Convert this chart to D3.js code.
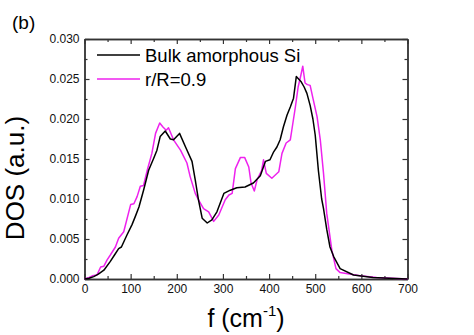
<!DOCTYPE html>
<html>
<head>
<meta charset="utf-8">
<script src="https://cdn.jsdelivr.net/npm/d3@7"></script>
<style>
  body { margin: 0; background: #fff; }
  svg { display: block; font-family: "Liberation Sans", Arial, sans-serif; }
</style>
</head>
<body>
<svg id="chart" width="474" height="335"></svg>
<script>
// bulk amorphous Si
var bulkF = [0, 10, 20, 30, 42, 56, 65, 74, 80, 92, 103, 110, 118, 128, 139, 150, 157, 164, 175, 186, 193, 206, 219, 233, 240, 247, 255, 266, 276, 287, 302, 316, 330, 348, 366, 381, 392, 402, 410, 417, 424, 431, 439, 446, 453, 459, 469, 476, 482, 489, 495, 500, 507, 514, 518, 525, 532, 540, 554, 583, 625, 660, 700];
var bulkDos = [0, 0.0001, 0.0003, 0.0006, 0.0011, 0.0022, 0.003, 0.0038, 0.004, 0.0055, 0.0068, 0.0078, 0.009, 0.0111, 0.0136, 0.0151, 0.0161, 0.0178, 0.0185, 0.0175, 0.0174, 0.0182, 0.0165, 0.0147, 0.0124, 0.0099, 0.0076, 0.007, 0.0074, 0.0084, 0.0107, 0.0111, 0.0114, 0.0115, 0.012, 0.0129, 0.0147, 0.0149, 0.0159, 0.0165, 0.0174, 0.019, 0.0205, 0.0215, 0.0226, 0.0253, 0.0247, 0.024, 0.0232, 0.0217, 0.02, 0.018, 0.0135, 0.01, 0.0088, 0.0062, 0.004, 0.0028, 0.0013, 0.0005, 0.0002, 0.0001, 0];
// r/R = 0.9
var ringF = [0, 10, 17, 27, 35, 42, 49, 56, 67, 74, 85, 100, 107, 114, 121, 128, 136, 146, 154, 163, 170, 177, 182, 193, 208, 222, 229, 240, 249, 258, 269, 280, 291, 305, 313, 320, 327, 338, 347, 356, 361, 368, 374, 384, 388, 394, 406, 421, 428, 437, 446, 449, 457, 463, 469, 473, 478, 483, 489, 495, 504, 511, 518, 525, 536, 545, 554, 597, 633, 700];
var ringDos = [0, 0.0002, 0.0004, 0.0005, 0.0015, 0.0016, 0.0024, 0.003, 0.004, 0.0051, 0.0059, 0.0093, 0.0094, 0.0103, 0.0116, 0.0117, 0.0136, 0.0157, 0.0182, 0.0195, 0.019, 0.0186, 0.0189, 0.0174, 0.0161, 0.0145, 0.0128, 0.0107, 0.0097, 0.0088, 0.0084, 0.0072, 0.008, 0.0099, 0.0105, 0.0107, 0.0138, 0.0152, 0.0152, 0.014, 0.012, 0.011, 0.0124, 0.0136, 0.0149, 0.0132, 0.0126, 0.0134, 0.0157, 0.017, 0.0174, 0.0185, 0.0215, 0.024, 0.0255, 0.0266, 0.0245, 0.0243, 0.0242, 0.0226, 0.0203, 0.0174, 0.0132, 0.0082, 0.0036, 0.0013, 0.0008, 0.0004, 0.0002, 0];

var xTicks = [0, 100, 200, 300, 400, 500, 600, 700];
var yTicks = [0, 0.005, 0.01, 0.015, 0.02, 0.025, 0.03];
var seriesNames = ["Bulk amorphous Si", "r/R=0.9"];
var seriesColors = ["#000000", "#ee22ee"];

var svg = d3.select("#chart");
var plotL = 84.5, plotR = 407.5, plotT = 39, plotB = 279;

var x = d3.scaleLinear().domain([0, 700]).range([plotL, plotR]);
var y = d3.scaleLinear().domain([0, 0.03]).range([plotB, plotT]);

var xMinor = d3.range(50, 700, 100);
var yMinor = d3.range(0.0025, 0.03, 0.005);

function styleAxis(g) {
    g.selectAll("path").attr("stroke", "#333").attr("stroke-width", 1.4);
    g.selectAll("line").attr("stroke", "#333").attr("stroke-width", 1.2);
    g.selectAll("text").attr("fill", "#111").style("font-size", "12px");
}

// bottom axis with labels
svg.append("g").attr("transform", "translate(0," + plotB + ")")
    .call(d3.axisBottom(x).tickValues(xTicks).tickSizeInner(-5).tickSizeOuter(0).tickPadding(5))
    .call(styleAxis);
svg.append("g").attr("transform", "translate(0," + plotB + ")")
    .call(d3.axisBottom(x).tickValues(xMinor).tickSizeInner(-3).tickSizeOuter(0).tickFormat(""))
    .call(styleAxis);
// left axis with labels
svg.append("g").attr("transform", "translate(" + plotL + ",0)")
    .call(d3.axisLeft(y).tickValues(yTicks).tickFormat(d3.format(".3f")).tickSizeInner(-5).tickSizeOuter(0).tickPadding(5))
    .call(styleAxis);
svg.append("g").attr("transform", "translate(" + plotL + ",0)")
    .call(d3.axisLeft(y).tickValues(yMinor).tickSizeInner(-3).tickSizeOuter(0).tickFormat(""))
    .call(styleAxis);
// top and right frame
svg.append("g").attr("transform", "translate(0," + plotT + ")")
    .call(d3.axisTop(x).tickValues(xTicks).tickSizeInner(-5).tickSizeOuter(0).tickFormat(""))
    .call(styleAxis);
svg.append("g").attr("transform", "translate(0," + plotT + ")")
    .call(d3.axisTop(x).tickValues(xMinor).tickSizeInner(-3).tickSizeOuter(0).tickFormat(""))
    .call(styleAxis);
svg.append("g").attr("transform", "translate(" + plotR + ",0)")
    .call(d3.axisRight(y).tickValues(yTicks).tickSizeInner(-5).tickSizeOuter(0).tickFormat(""))
    .call(styleAxis);
svg.append("g").attr("transform", "translate(" + plotR + ",0)")
    .call(d3.axisRight(y).tickValues(yMinor).tickSizeInner(-3).tickSizeOuter(0).tickFormat(""))
    .call(styleAxis);

var line = d3.line()
    .x(function (d) { return x(d[0]); })
    .y(function (d) { return y(d[1]); });

var series = [d3.zip(bulkF, bulkDos), d3.zip(ringF, ringDos)];
// draw magenta first so black sits on top where they overlap
[1, 0].forEach(function (i) {
    svg.append("path")
        .datum(series[i])
        .attr("fill", "none")
        .attr("stroke", seriesColors[i])
        .attr("stroke-width", 1.5)
        .attr("stroke-linejoin", "round")
        .attr("d", line);
});

// legend
var legendY = [55, 79];
seriesNames.forEach(function (name, i) {
    svg.append("line")
        .attr("x1", 97).attr("x2", 140)
        .attr("y1", legendY[i]).attr("y2", legendY[i])
        .attr("stroke", seriesColors[i]).attr("stroke-width", 1.5);
    svg.append("text")
        .attr("x", 145).attr("y", legendY[i] + 7)
        .style("font-size", "18.5px")
        .attr("fill", "#000")
        .text(name);
});

// panel label
svg.append("text").attr("x", 12).attr("y", 29)
    .style("font-size", "19px").text("(b)");

// axis titles
svg.append("text")
    .attr("transform", "translate(24,178) rotate(-90)")
    .attr("text-anchor", "middle")
    .style("font-size", "26px")
    .text("DOS (a.u.)");

var xt = svg.append("text")
    .attr("x", 246).attr("y", 327)
    .attr("text-anchor", "middle")
    .style("font-size", "25px");
xt.append("tspan").text("f (cm");
xt.append("tspan").attr("dy", -11).style("font-size", "15px").text("-1");
xt.append("tspan").attr("dy", 11).text(")");
</script>
</body>
</html>
